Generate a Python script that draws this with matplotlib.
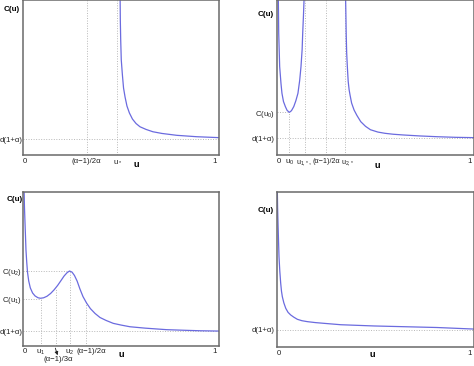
import matplotlib.pyplot as plt

plt.rcParams["font.family"] = ["Liberation Sans", "DejaVu Sans"]
plt.rcParams["mathtext.fontset"] = "custom"
plt.rcParams["mathtext.rm"] = "Liberation Sans"
plt.rcParams["mathtext.it"] = "Liberation Sans"
plt.rcParams["mathtext.bf"] = "Liberation Sans:bold"

CURVE = "#6b6bdf"
GRID = "#b8b8b8"
SPINE = "#6a6a6a"
DOT = (0, (1, 1.6))

# --- panel 1 (top left): one pole at u*
p1_u = [0.501, 0.503, 0.504, 0.506, 0.509, 0.515, 0.521, 0.529, 0.539, 0.552,
        0.568, 0.587, 0.608, 0.640, 0.676, 0.724, 0.802, 0.907, 1.025]
p1_c = [10.6, 10.0, 8.7, 7.42, 6.13, 5.16, 4.32, 3.74, 3.16, 2.71,
        2.32, 2.03, 1.82, 1.65, 1.50, 1.39, 1.27, 1.18, 1.12]
p1_base = 1.01
p1_half = 0.326   # (a-1)/2a
p1_ustar = 0.489

# --- panel 2 (top right): two poles, local min at u0
p2_u_left = [-0.0047, -0.003, -0.001, 0.004, 0.011, 0.016, 0.024, 0.034, 0.043,
             0.055, 0.066, 0.078, 0.089, 0.100, 0.109, 0.116, 0.122, 0.125,
             0.129, 0.132, 0.133]
p2_c_left = [10.3, 10.0, 7.85, 5.70, 4.60, 3.98, 3.45, 3.12, 2.88,
             2.75, 2.86, 3.12, 3.50, 3.98, 4.80, 5.70, 6.80, 7.85,
             9.0, 10.0, 10.4]
p2_u_right = [0.350, 0.352, 0.3535, 0.356, 0.3595, 0.364, 0.369, 0.374, 0.382,
              0.395, 0.410, 0.430, 0.455, 0.481, 0.520, 0.557, 0.600, 0.656,
              0.740, 0.831, 0.930, 1.025]
p2_c_right = [10.4, 9.0, 7.85, 6.6, 5.70, 4.75, 4.20, 3.85, 3.35,
              2.90, 2.55, 2.15, 1.85, 1.63, 1.48, 1.40, 1.34, 1.29,
              1.23, 1.18, 1.14, 1.12]
p2_base = 1.08
p2_u0 = 0.055
p2_cu0 = 2.75
p2_u1star = 0.139
p2_half = 0.247
p2_u2star = 0.349

# --- panel 3 (bottom left): local min u1, local max u2
p3_u = [-0.006, -0.004, -0.001, 0.0016, 0.004, 0.008, 0.012, 0.0185, 0.027,
        0.039, 0.052, 0.068, 0.081, 0.097, 0.115, 0.134, 0.152, 0.171,
        0.189, 0.205, 0.221, 0.234, 0.247, 0.260, 0.274, 0.289, 0.305,
        0.324, 0.344, 0.369, 0.395, 0.427, 0.465, 0.506, 0.553, 0.633,
        0.747, 0.844, 0.923, 1.025]
p3_c = [10.15, 9.05, 7.99, 7.10, 6.25, 5.47, 4.82, 4.24, 3.79,
        3.46, 3.27, 3.15, 3.12, 3.15, 3.25, 3.43, 3.66, 3.95,
        4.27, 4.56, 4.78, 4.89, 4.82, 4.60, 4.24, 3.72, 3.23,
        2.81, 2.45, 2.13, 1.87, 1.68, 1.49, 1.38, 1.27, 1.18,
        1.08, 1.04, 1.01, 0.99]
p3_base = 0.97
p3_u1 = 0.0835
p3_cu1 = 3.10
p3_third = 0.163   # (a-1)/3a
p3_c_third = 3.8
p3_u2 = 0.234
p3_cu2 = 4.92
p3_half = 0.319
p3_c_half = 2.9

# --- panel 4 (bottom right): monotone decrease
p4_u = [-0.0084, -0.0068, -0.0047, -0.0021, 0.0005, 0.0047, 0.0094, 0.0136,
        0.018, 0.026, 0.036, 0.048, 0.062, 0.078, 0.097, 0.121, 0.149,
        0.190, 0.237, 0.325, 0.500, 0.831, 1.025]
p4_c = [10.15, 9.0, 8.0, 6.9, 5.84, 4.9, 4.12, 3.6,
        3.25, 2.85, 2.50, 2.24, 2.07, 1.93, 1.79, 1.70, 1.64,
        1.58, 1.53, 1.44, 1.36, 1.26, 1.16]
p4_base = 1.10

XMIN, XMAX = -0.01, 1.025

fig = plt.figure(figsize=(4.74, 3.66), dpi=100)
ax1 = fig.add_axes([0.0485, 0.5765, 0.4135, 0.4235])
ax2 = fig.add_axes([0.5844, 0.5765, 0.4156, 0.4235])
ax3 = fig.add_axes([0.0492, 0.0538, 0.4135, 0.4208])
ax4 = fig.add_axes([0.5844, 0.0519, 0.4156, 0.4227])


def style(ax, xticks, xlabels, yticks, ylabels, ylab_xy, xlab_xy, xpad, ypad):
    ax.set_xlim(XMIN, XMAX)
    ax.set_ylim(0, 10)
    for s in ax.spines.values():
        s.set_color(SPINE)
        s.set_linewidth(1.1)
    ax.set_xticks(xticks)
    ax.set_xticklabels(xlabels)
    ax.set_yticks(yticks)
    ax.set_yticklabels(ylabels)
    ax.tick_params(length=0, labelsize=5.6, colors="#222222")
    ax.tick_params(axis="x", pad=xpad)
    ax.tick_params(axis="y", pad=ypad)
    ax.set_ylabel("C(u)", fontsize=5.8, fontweight="bold", rotation=0,
                  ha="right", va="center")
    ax.yaxis.set_label_coords(*ylab_xy)
    ax.set_xlabel("u", fontsize=6.5, fontweight="bold", va="center")
    ax.xaxis.set_label_coords(*xlab_xy)


def dotted(ax, xs, ys):
    ax.plot(xs, ys, color=GRID, ls=DOT, lw=0.7, zorder=1)


# panel 1
ax1.axhline(p1_base, color=GRID, ls=DOT, lw=0.7, zorder=1)
ax1.axvline(p1_half, color=GRID, ls=DOT, lw=0.7, zorder=1)
ax1.axvline(p1_ustar, color=GRID, ls=DOT, lw=0.7, zorder=1)
ax1.plot(p1_u, p1_c, color=CURVE, lw=0.9)
style(ax1, [0, p1_half, p1_ustar, 1], ["0", "(α−1)/2α", "$u_*$", "1"],
      [p1_base], ["d(1+α)"], (-0.015, 0.94), (0.577, -0.060), 2.2, 0.6)

# panel 2
ax2.axhline(p2_base, color=GRID, ls=DOT, lw=0.7, zorder=1)
for xv in [p2_u1star, p2_half, p2_u2star]:
    ax2.axvline(xv, color=GRID, ls=DOT, lw=0.7, zorder=1)
dotted(ax2, [p2_u0, p2_u0], [0, p2_cu0])
dotted(ax2, [XMIN, p2_u0], [p2_cu0, p2_cu0])
ax2.plot(p2_u_left, p2_c_left, color=CURVE, lw=0.9)
ax2.plot(p2_u_right, p2_c_right, color=CURVE, lw=0.9)
style(ax2, [0, p2_u0, p2_u1star - 0.006, p2_half + 0.004, p2_u2star + 0.016, 1],
      ["0", "$u_0$", "$u_{1,*}$,", "(α−1)/2α", "$u_{2,*}$", "1"],
      [p2_base, p2_cu0], ["d(1+α)", "C(u$_0$)"],
      (-0.017, 0.908), (0.508, -0.069), 2.2, 1.8)
for lbl in ax2.get_xticklabels()[2:5]:
    lbl.set_fontsize(5.2)

# panel 3
ax3.axhline(p3_base, color=GRID, ls=DOT, lw=0.7, zorder=1)
dotted(ax3, [p3_u1, p3_u1], [0, p3_cu1])
dotted(ax3, [XMIN, p3_u1], [p3_cu1, p3_cu1])
dotted(ax3, [p3_u2, p3_u2], [0, p3_cu2])
dotted(ax3, [XMIN, p3_u2], [p3_cu2, p3_cu2])
dotted(ax3, [p3_third, p3_third], [0, p3_c_third])
dotted(ax3, [p3_half, p3_half], [0, p3_c_half])
ax3.plot(p3_u, p3_c, color=CURVE, lw=0.9)
style(ax3, [0, p3_u1, p3_u2, p3_half + 0.03, 1],
      ["0", "$u_1$", "$u_2$", "(α−1)/2α", "1"],
      [p3_base, p3_cu1, p3_cu2], ["d(1+α)", "C(u$_1$)", "C(u$_2$)"],
      (-0.003, 0.952), (0.502, -0.050), 1.2, 0.8)
ax3.annotate("", xy=(p3_third + 0.008, -0.058), xytext=(p3_third - 0.004, -0.012),
             xycoords=("data", "axes fraction"), textcoords=("data", "axes fraction"),
             annotation_clip=False,
             arrowprops=dict(arrowstyle="-|>", color="#222222", lw=0.6,
                             mutation_scale=5, shrinkA=0, shrinkB=0))
ax3.text(p3_third + 0.012, -0.087, "(α−1)/3α", transform=ax3.get_xaxis_transform(),
         ha="center", va="center", fontsize=5.6, color="#222222")

# panel 4
ax4.axhline(p4_base, color=GRID, ls=DOT, lw=0.7, zorder=1)
ax4.plot(p4_u, p4_c, color=CURVE, lw=0.9)
style(ax4, [0, 1], ["0", "1"], [p4_base], ["d(1+α)"],
      (-0.017, 0.884), (0.482, -0.050), 2.2, 1.6)

fig.savefig("out.png", dpi=100)
